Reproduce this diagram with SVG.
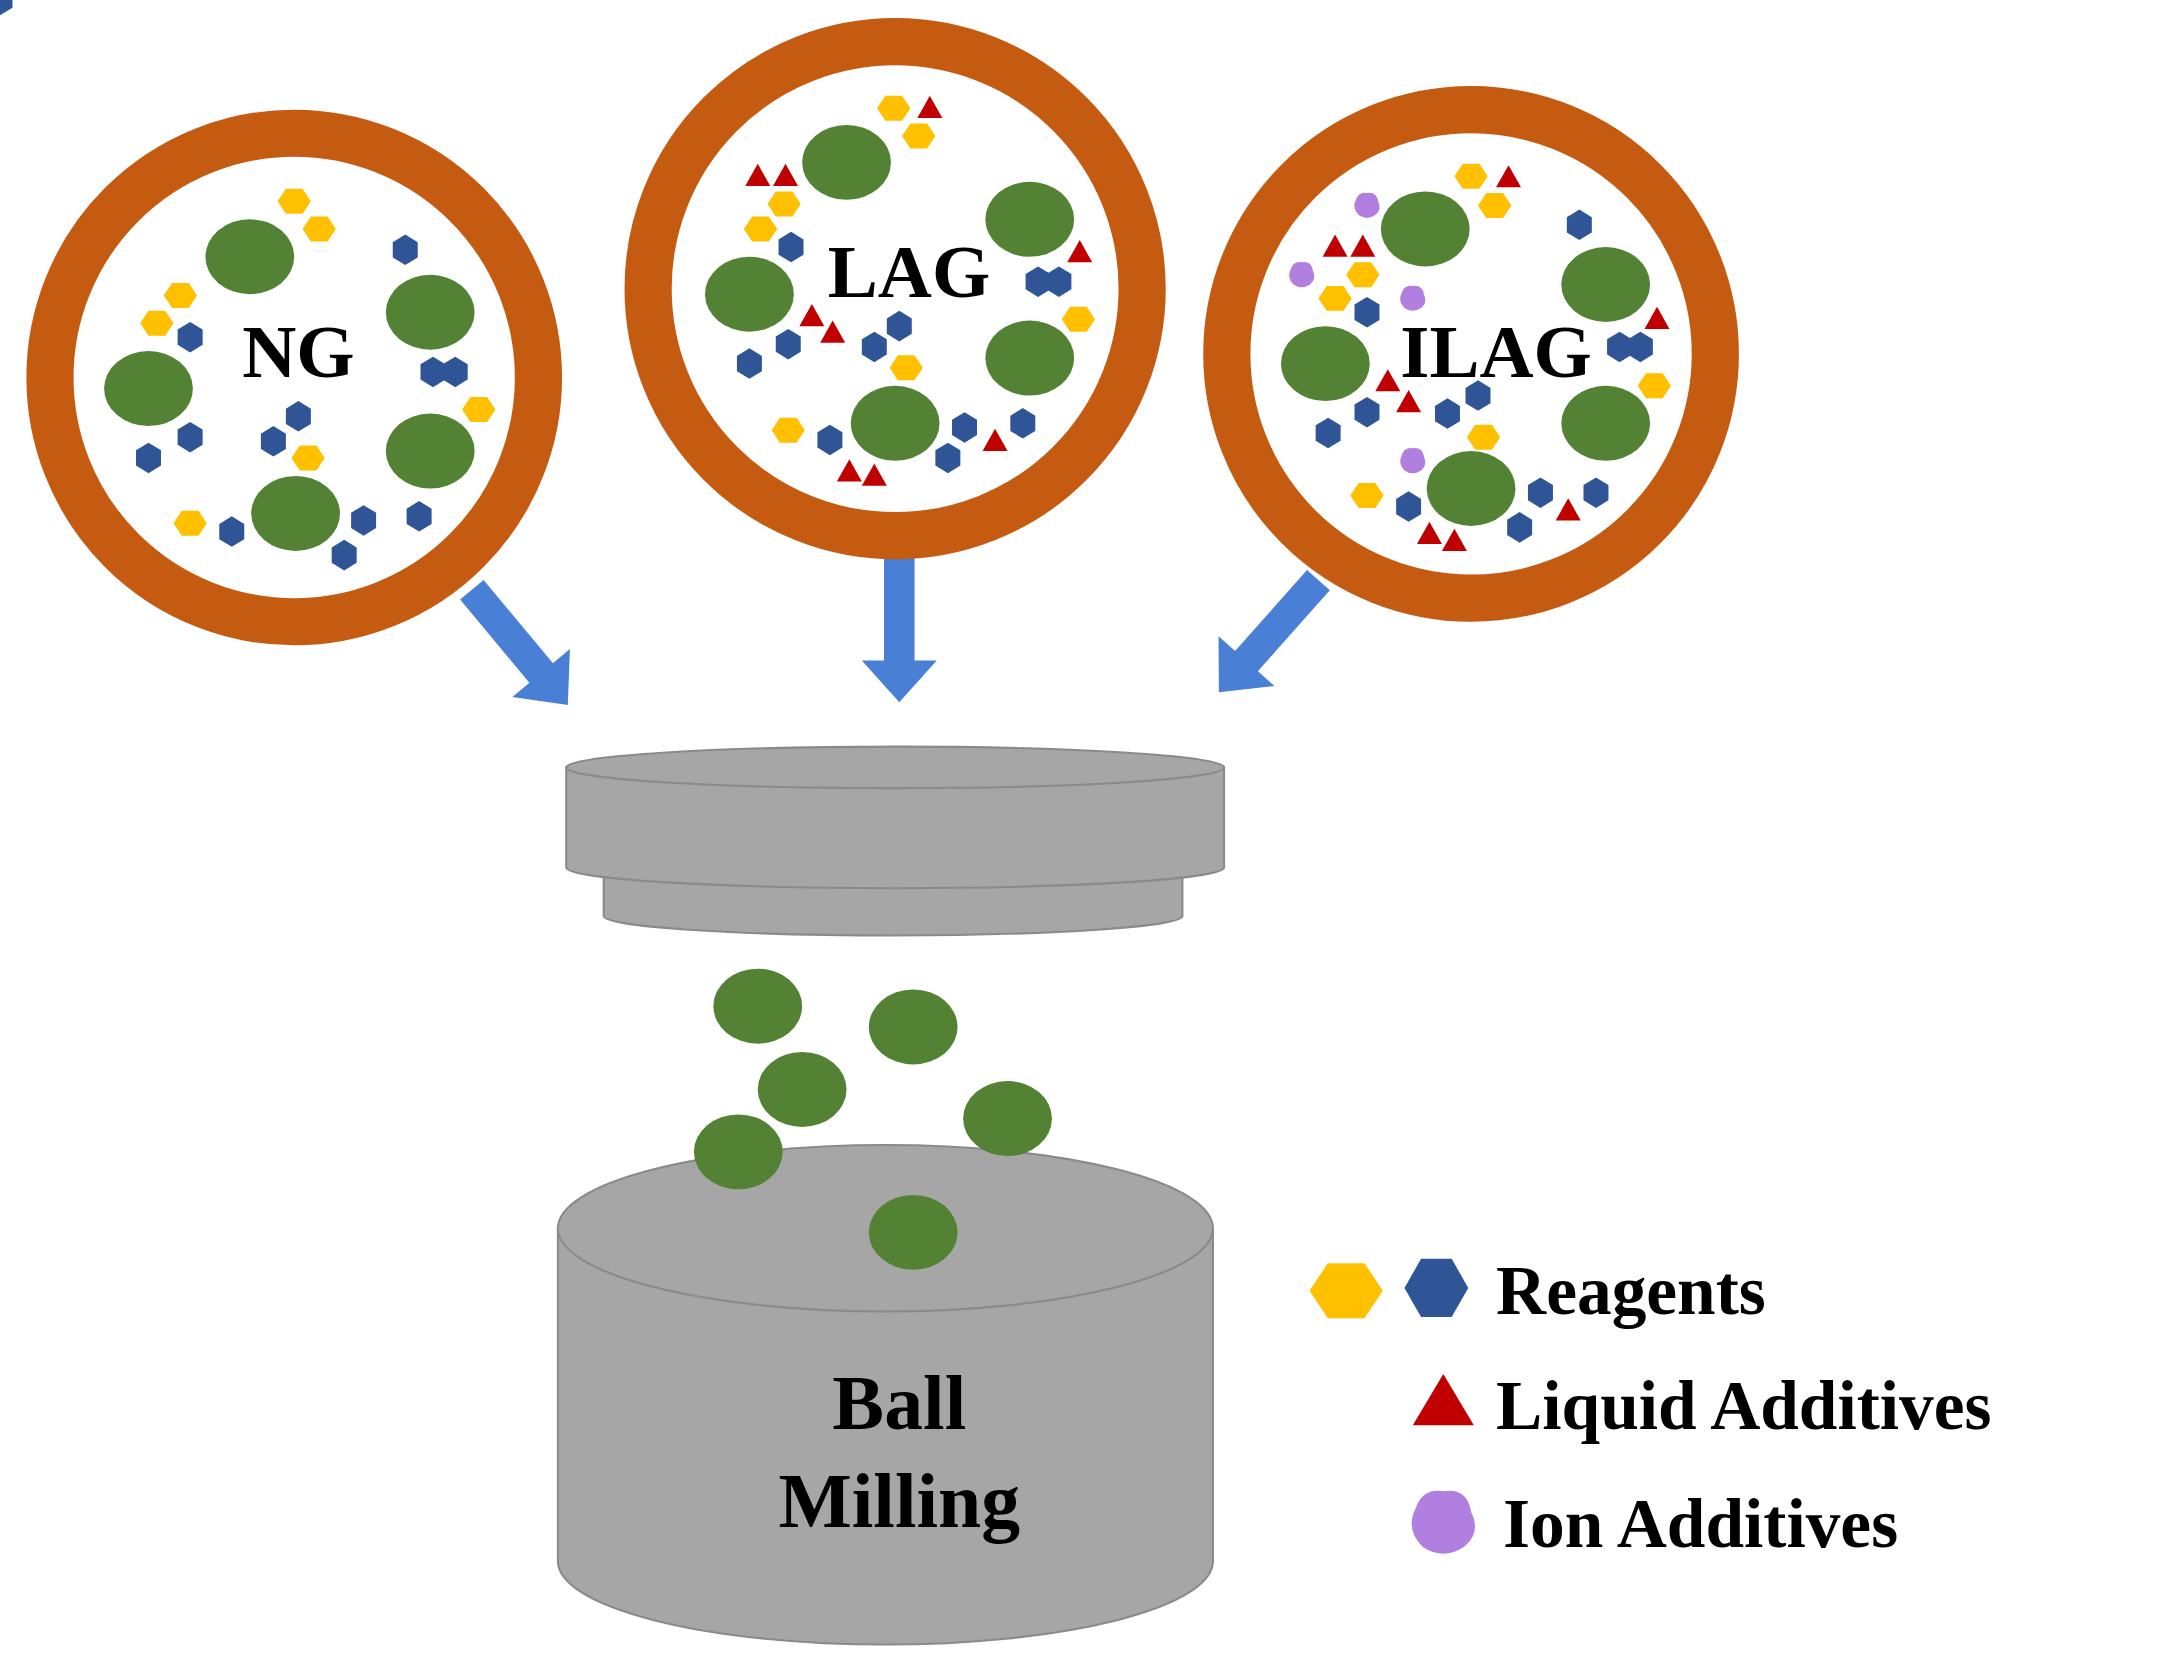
<svg xmlns="http://www.w3.org/2000/svg" xmlns:xlink="http://www.w3.org/1999/xlink" width="2176" height="1674" viewBox="0 0 2176 1674">
<defs>
<style>
.ring{fill:#fff;stroke:#C55A11;stroke-width:34}
.g{fill:#548235}
.lbl{font-family:"Liberation Serif",serif;font-weight:bold;fill:#000;text-anchor:middle}
.gray{fill:#A6A6A6;stroke:#8a8a8a;stroke-width:1.5}
.arr{fill:#4A7FD6}
</style>
<polygon id="y" points="-12,0 -6,-9 6,-9 12,0 6,9 -6,9" fill="#FFC000"/>
<polygon id="b" points="0,-11 9,-5.5 9,5.5 0,11 -9,5.5 -9,-5.5" fill="#2F5597"/>
<polygon id="r" points="0,-9 9,7 -9,7" fill="#C00000"/>
<path id="p" d="M-8,-4 Q-6,-10 0,-9 Q7,-10 8,-3 Q11,3 6,7 Q0,11 -6,7 Q-11,2 -8,-4Z" fill="#B07FE0"/>
<ellipse id="e" rx="32" ry="27" fill="#548235"/>
<g id="arrow"><rect x="-11" y="0" width="22" height="80"/><polygon points="-27,78 27,78 0,108"/></g>
</defs>
<rect width="2176" height="1674" fill="#fff"/>
<g transform="scale(1.3878)">
<g id="connectors" class="arr">
<use xlink:href="#arrow" transform="translate(340,425) rotate(-39.8)"/>
<use xlink:href="#arrow" transform="translate(648,398)"/>
<use xlink:href="#arrow" transform="translate(950,418) rotate(41.6)"/>
</g>
<g id="NG">
<circle class="ring" cx="212" cy="272" r="176"/>
<use xlink:href="#e" x="180" y="185"/><use xlink:href="#e" x="310" y="225"/><use xlink:href="#e" x="107" y="280"/><use xlink:href="#e" x="310" y="325"/><use xlink:href="#e" x="213" y="370"/>
<use xlink:href="#y" x="212" y="145"/><use xlink:href="#y" x="230" y="165"/><use xlink:href="#y" x="130" y="213"/><use xlink:href="#y" x="113" y="233"/><use xlink:href="#y" x="345" y="295"/><use xlink:href="#y" x="222" y="330"/><use xlink:href="#y" x="137" y="377"/>
<use xlink:href="#b" x="292" y="180"/><use xlink:href="#b" x="137" y="243"/><use xlink:href="#b" x="312" y="268"/><use xlink:href="#b" x="328" y="268"/><use xlink:href="#b" x="215" y="300"/><use xlink:href="#b" x="197" y="318"/><use xlink:href="#b" x="137" y="315"/><use xlink:href="#b" x="107" y="330"/><use xlink:href="#b" x="167" y="383"/><use xlink:href="#b" x="262" y="375"/><use xlink:href="#b" x="248" y="400"/><use xlink:href="#b" x="302" y="372"/>
<text class="lbl" x="215" y="272" font-size="54">NG</text>
</g>
<g id="LAG">
<circle class="ring" cx="645" cy="208" r="178"/>
<use xlink:href="#e" x="610" y="117"/><use xlink:href="#e" x="742" y="158"/><use xlink:href="#e" x="540" y="212"/><use xlink:href="#e" x="742" y="258"/><use xlink:href="#e" x="645" y="305"/>
<use xlink:href="#y" x="644" y="78"/><use xlink:href="#y" x="662" y="98"/><use xlink:href="#y" x="565" y="147"/><use xlink:href="#y" x="548" y="165"/><use xlink:href="#y" x="777" y="230"/><use xlink:href="#y" x="653" y="265"/><use xlink:href="#y" x="568" y="310"/>
<use xlink:href="#r" x="670" y="78"/><use xlink:href="#r" x="546" y="127"/><use xlink:href="#r" x="566" y="127"/><use xlink:href="#r" x="778" y="182"/><use xlink:href="#r" x="585" y="228"/><use xlink:href="#r" x="600" y="240"/><use xlink:href="#r" x="717" y="318"/><use xlink:href="#r" x="612" y="340"/><use xlink:href="#r" x="630" y="343"/>
<use xlink:href="#b" x="570" y="178"/><use xlink:href="#b" x="748" y="203"/><use xlink:href="#b" x="763" y="203"/><use xlink:href="#b" x="630" y="250"/><use xlink:href="#b" x="648" y="235"/><use xlink:href="#b" x="568" y="248"/><use xlink:href="#b" x="540" y="262"/><use xlink:href="#b" x="598" y="317"/><use xlink:href="#b" x="695" y="308"/><use xlink:href="#b" x="737" y="305"/><use xlink:href="#b" x="683" y="330"/>
<text class="lbl" x="655" y="214" font-size="54">LAG</text>
</g>
<g id="ILAG">
<circle class="ring" cx="1060" cy="255" r="176"/>
<use xlink:href="#e" x="1027" y="165"/><use xlink:href="#e" x="1157" y="205"/><use xlink:href="#e" x="955" y="262"/><use xlink:href="#e" x="1157" y="305"/><use xlink:href="#e" x="1060" y="352"/>
<use xlink:href="#y" x="1060" y="127"/><use xlink:href="#y" x="1077" y="148"/><use xlink:href="#y" x="982" y="198"/><use xlink:href="#y" x="962" y="215"/><use xlink:href="#y" x="1192" y="278"/><use xlink:href="#y" x="1069" y="315"/><use xlink:href="#y" x="985" y="357"/>
<use xlink:href="#r" x="1087" y="128"/><use xlink:href="#r" x="962" y="178"/><use xlink:href="#r" x="982" y="178"/><use xlink:href="#r" x="1194" y="230"/><use xlink:href="#r" x="1000" y="275"/><use xlink:href="#r" x="1015" y="290"/><use xlink:href="#r" x="1130" y="368"/><use xlink:href="#r" x="1030" y="385"/><use xlink:href="#r" x="1048" y="390"/>
<use xlink:href="#p" x="985" y="148"/><use xlink:href="#p" x="938" y="198"/><use xlink:href="#p" x="1018" y="215"/><use xlink:href="#p" x="1018" y="332"/>
<use xlink:href="#b" x="1138" y="162"/><use xlink:href="#b" x="985" y="225"/><use xlink:href="#b" x="1167" y="250"/><use xlink:href="#b" x="1182" y="250"/><use xlink:href="#b" x="1043" y="298"/><use xlink:href="#b" x="1065" y="285"/><use xlink:href="#b" x="957" y="312"/><use xlink:href="#b" x="985" y="297"/><use xlink:href="#b" x="1015" y="365"/><use xlink:href="#b" x="1110" y="355"/><use xlink:href="#b" x="1150" y="355"/><use xlink:href="#b" x="1095" y="380"/>
<text class="lbl" x="1078" y="272" font-size="54">ILAG</text>
</g>
<g id="lid">
<path class="gray" d="M435,630 L435,660 A208,14 0 0 0 852,660 L852,630Z"/>
<path class="gray" d="M408,553 L408,625 A237,15 0 0 0 882,625 L882,553Z"/>
<ellipse class="gray" cx="645" cy="553" rx="237" ry="15"/>
</g>
<g id="jar">
<path class="gray" d="M402,885 L402,1125 A236,60 0 0 0 874,1125 L874,885Z"/>
<ellipse class="gray" cx="638" cy="885" rx="236" ry="60"/>
<text class="lbl" x="648" y="1030" font-size="56">Ball</text>
<text class="lbl" x="648" y="1100" font-size="56">Milling</text>
</g>
<g id="balls">
<use xlink:href="#e" x="546" y="725"/><use xlink:href="#e" x="658" y="740"/><use xlink:href="#e" x="578" y="785"/><use xlink:href="#e" x="726" y="806"/><use xlink:href="#e" x="532" y="830"/><use xlink:href="#e" x="658" y="888"/>
</g>
<g id="legend" font-family="Liberation Serif,serif" font-weight="bold" font-size="50">
<use xlink:href="#y" transform="translate(970,930) scale(2.2)"/>
<use xlink:href="#b" transform="translate(1035,928) scale(2)" style="transform:none"/>
<polygon points="1012,928 1024,907 1046,907 1058,928 1046,949 1024,949" fill="#2F5597"/>
<text x="1078" y="947">Reagents</text>
<polygon points="1040,990 1062,1027 1018,1027" fill="#C00000"/>
<text x="1078" y="1030">Liquid Additives</text>
<use xlink:href="#p" transform="translate(1040,1097) scale(2.5)"/>
<text x="1083" y="1115">Ion Additives</text>
</g>
</g>
</svg>
